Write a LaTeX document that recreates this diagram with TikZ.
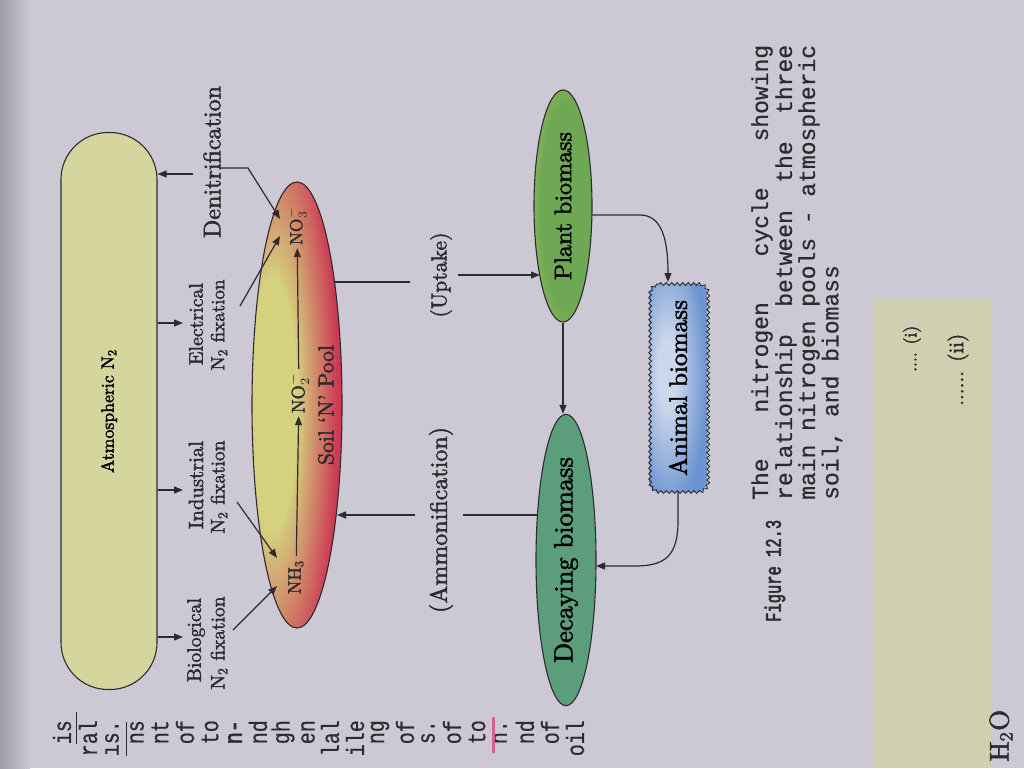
\documentclass[tikz,border=0pt]{standalone}
\usepackage{fontspec}
\setmainfont{lmroman10-regular.otf}[FakeBold=2]
\newfontfamily\capmono{Liberation Mono}[FakeBold=0.6]
\newfontfamily\capbold{Liberation Mono}[FakeBold=3]
\usetikzlibrary{arrows.meta,shapes.geometric,decorations.pathmorphing,calc}

\definecolor{paper}{RGB}{204,201,212}
\definecolor{paperdark}{RGB}{160,156,168}
\definecolor{ink}{RGB}{45,42,48}
\definecolor{atmfill}{RGB}{212,214,158}
\definecolor{soilred}{RGB}{204,58,84}
\definecolor{soilyel}{RGB}{212,210,126}
\definecolor{plantgreen}{RGB}{110,168,84}
\definecolor{plantyel}{RGB}{210,214,96}
\definecolor{decgreen}{RGB}{92,158,124}
\definecolor{decedge}{RGB}{122,170,100}
\definecolor{animblue}{RGB}{108,148,208}
\definecolor{animwhite}{RGB}{205,215,235}
\definecolor{hilite}{RGB}{206,208,176}
\definecolor{pinkmark}{RGB}{214,96,140}

\pgfdeclareradialshading{soilshade}{\pgfpoint{-16bp}{0bp}}{color(0bp)=(soilyel); color(14bp)=(soilyel); color(34bp)=(soilred); color(120bp)=(soilred)}
\pgfdeclareradialshading{plantshade}{\pgfpoint{3bp}{0bp}}{color(0bp)=(plantgreen); color(22bp)=(plantgreen); color(46bp)=(plantyel); color(120bp)=(plantyel)}
\pgfdeclareradialshading{decshade}{\pgfpoint{0bp}{0bp}}{color(0bp)=(decgreen); color(36bp)=(decgreen); color(50bp)=(decedge); color(120bp)=(decedge)}
\pgfdeclareradialshading{animshade}{\pgfpoint{-10bp}{4bp}}{color(0bp)=(animwhite); color(8bp)=(animwhite); color(32bp)=(animblue); color(120bp)=(animblue)}

\newcommand{\fw}[2]{\resizebox{#1pt}{!}{#2}}

\tikzset{
  lbl/.style={rotate=90, inner sep=0pt, text=ink},
  arr/.style={draw=ink, line width=1.2pt, -{Triangle[length=9pt,width=7pt]}},
  ln/.style={draw=ink, line width=1.2pt},
  pool/.style={draw=ink, line width=1.1pt, inner sep=0pt},
  frag/.style={rotate=90, inner sep=0pt, anchor=east, text=ink},
  wavy/.style={draw=ink, line width=0.9pt, decorate, decoration={snake, segment length=5.5pt, amplitude=1.4pt}},
}
\newcommand{\fr}[1]{\scalebox{0.8}[1]{\capmono\fontsize{25}{28}\selectfont #1}}

\begin{document}
\begin{tikzpicture}[x=1pt,y=-1pt]
\useasboundingbox (0,0) rectangle (1024,768);
\clip (0,0) rectangle (1024,768);
% paper
\fill[paper] (0,0) rectangle (1024,768);
\shade[left color=paperdark, right color=paper] (0,0) rectangle (30,768);
\fill[hilite] (873,300) rectangle (992,768);

% Atmospheric N2 pool
\node[pool, fill=atmfill, rounded corners=47, minimum width=96, minimum height=557] (atm) at (109,411)
  {\rotatebox{90}{\fw{124}{Atmospheric N\textsubscript{2}}}};

% Soil N pool
\node[pool, ellipse, shading=soilshade, minimum width=90, minimum height=446] (soil) at (297,405) {};
\node[lbl] (nh3) at (296,577) {\fw{34}{NH\textsubscript{3}}};
\node[lbl] (no2) at (299,393) {\fw{40}{NO$_2^-$}};
\node[lbl] (no3) at (297,226) {\fw{38}{NO$_3^-$}};
\node[lbl] (soiltxt) at (326,405) {\fw{120}{Soil `N' Pool}};
\draw[arr, shorten <=4pt, shorten >=3pt] (nh3) -- (no2);
\draw[arr, shorten <=4pt, shorten >=3pt] (no2) -- (no3);

% Plant, decaying, animal biomass
\node[pool, ellipse, shading=plantshade, minimum width=58, minimum height=232] (plant) at (563,206)
  {\rotatebox{90}{\fw{148}{Plant biomass}}};
\node[pool, ellipse, shading=decshade, minimum width=60, minimum height=256] (decay) at (566,560)
  {\rotatebox{90}{\fw{206}{Decaying biomass}}};
\node[rectangle, inner sep=0pt, rounded corners=10, shading=animshade, minimum width=58, minimum height=208] (animal) at (678,388)
  {\rotatebox{90}{\fw{176}{Animal biomass}}};
\draw[wavy] (659,284) -- (697,284) .. controls (702.5,284) and (707,288.5) .. (707,294)
  -- (707,482) .. controls (707,487.5) and (702.5,492) .. (697,492)
  -- (659,492) .. controls (653.5,492) and (649,487.5) .. (649,482)
  -- (649,294) .. controls (649,288.5) and (653.5,284) .. (659,284) -- cycle;

% fixation labels
\node[lbl] (bio1) at (196,640) {\fw{84}{Biological}};
\node[lbl] (bio2) at (219,643) {\fw{93}{N\textsubscript{2} fixation}};
\node[lbl] (ind1) at (196,485) {\fw{88}{Industrial}};
\node[lbl] (ind2) at (219,487) {\fw{93}{N\textsubscript{2} fixation}};
\node[lbl] (ele1) at (196,324) {\fw{82}{Electrical}};
\node[lbl] (ele2) at (219,325) {\fw{91}{N\textsubscript{2} fixation}};
\node[lbl] (denit) at (212,162) {\fw{152}{Denitrification}};
\node[lbl] (ammon) at (441,520) {\fw{186}{(Ammonification)}};
\node[lbl] (uptake) at (441,275) {\fw{85}{(Uptake)}};

% arrows out of / into the atmosphere
\draw[arr] (atm.east |- 0,637) -- (183,637);
\draw[arr] (atm.east |- 0,490) -- (183,490);
\draw[arr] (atm.east |- 0,323) -- (183,323);
\coordinate (denA) at (193,174);
\draw[arr] (denA) -- (atm.east |- denA);

% fixation arrows into the soil pool
\coordinate (bioT) at (233,630);  \coordinate (bioH) at (277,586);
\coordinate (indT) at (237,502);  \coordinate (indH) at (277,558);
\coordinate (eleT) at (240,306);  \coordinate (eleH) at (280,236);
\draw[arr] (bioT) -- (bioH);
\draw[arr] (indT) -- (indH);
\draw[arr] (eleT) -- (eleH);
\coordinate (denT) at (220,168); \coordinate (denK) at (248,168); \coordinate (denH) at (280,219);
\draw[arr] (denT) -- (denK) -- (denH);

% ammonification
\coordinate (soilAm) at (337,515);
\coordinate (amA) at (415,515);
\coordinate (amB) at (463,515);
\coordinate (decAm) at (538,515);
\draw[arr] (amA) -- (soilAm);
\draw[ln] (amB) -- (decAm);

% uptake
\coordinate (soilUp) at (335,282);
\coordinate (upA) at (410,282);
\coordinate (upB) at (458,275);
\coordinate (plantUp) at (540,275);
\draw[ln] (soilUp) -- (upA);
\draw[arr] (upB) -- (plantUp);

% biomass links
\draw[arr] (plant.south) -- (plant.south |- decay.north);
\coordinate (plantR) at (592,215);
\coordinate (animTop) at (668,282);
\draw[arr] (plantR) -- (640,215) .. controls (662,215) and (668,240) .. (animTop);
\coordinate (decR) at (596,566);
\draw[arr] (animal.south) -- (678,521) .. controls (678,556) and (665,566) .. (635,566) -- (decR);

% caption
\node[lbl, anchor=west] (figno) at (775,622) {\resizebox{102pt}{16pt}{\capbold Figure 12.3}};
\node[lbl, anchor=west, font=\capmono\fontsize{23}{26}\selectfont] (cap1) at (762,500) {\makebox[455pt][s]{The nitrogen cycle showing}};
\node[lbl, anchor=west, font=\capmono\fontsize{23}{26}\selectfont] (cap2) at (786,500) {\makebox[455pt][s]{relationship between the three}};
\node[lbl, anchor=west, font=\capmono\fontsize{23}{26}\selectfont] (cap3) at (809,500) {\makebox[455pt][s]{main nitrogen pools - atmospheric}};
\node[lbl, anchor=west, font=\capmono\fontsize{23}{26}\selectfont] (cap4) at (832,500) {soil, and biomass};

% exercise fragments, bottom right
\node[lbl, anchor=west] (ex1) at (912,372) {\fw{46}{.... (i)}};
\node[lbl, anchor=west] (ex2) at (958,406) {\fw{72}{...... (ii)}};
\node[lbl, anchor=west] (h2o) at (1001,762) {\fw{52}{H\textsubscript{2}O}};

% text column fragments, bottom left
\foreach \t/\x in {is/62, ral/88, ıs./112, ns/137, nt/160, of/185, to/210, nd/258, gh/283, en/308, lal/330, ile/355, ng/380, of/405, s./428, of/452, to/477, n./500, nd/525, of/550, oil/575}
  \node[frag] at (\x,720) {\fr{\t}};
\node[frag] (nhy) at (235,720) {\scalebox{0.8}[1]{\capbold\fontsize{25}{28}\selectfont n-}};
\draw[ink, line width=1pt] (76,712) -- (76,744);
\draw[ink, line width=1pt] (126,722) -- (126,756);
\draw[pinkmark, line width=3pt, line cap=round] (493,718) -- (493,752);
\end{tikzpicture}
\end{document}
